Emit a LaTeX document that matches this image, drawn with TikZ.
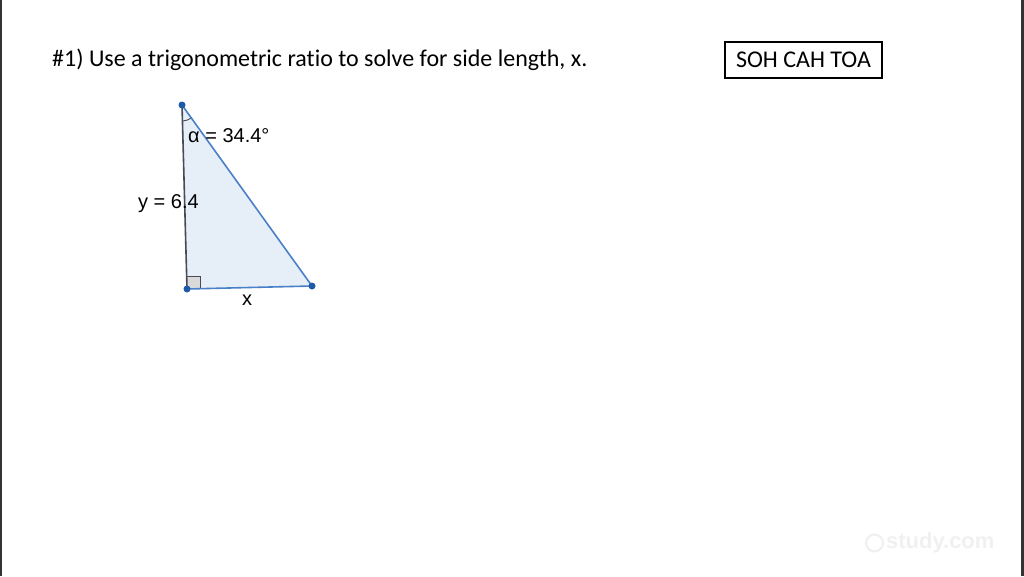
\documentclass[tikz,border=0pt]{standalone}
\usepackage{fontspec}
\setmainfont[Ligatures=NoCommon]{Carlito}
\newfontfamily\labelfont{Liberation Sans}
\usetikzlibrary{positioning}

\definecolor{sideblue}{RGB}{74,128,200}
\definecolor{dotblue}{RGB}{30,90,170}
\definecolor{fillblue}{RGB}{230,238,248}
\definecolor{legdark}{RGB}{70,75,85}

\tikzset{
  vertex/.style={circle,fill=dotblue,inner sep=0pt,minimum size=7pt},
  sidelabel/.style={font=\labelfont\fontsize{20}{22}\selectfont,inner sep=0pt},
  hintbox/.style={draw,line width=1.5pt,minimum width=157pt,minimum height=36pt,font=\fontsize{24}{28}\selectfont}
}

\begin{document}
\begin{tikzpicture}[x=1pt,y=-1pt]
    \useasboundingbox (0,0) rectangle (1024,576);
    % frame edges of the slide
    \draw [line width=2.5pt,black!80] (1.2,0) -- (1.2,576);
    \draw [line width=2.5pt,black!80] (1022.5,0) -- (1022.5,576);
    % title and hint
    \node [anchor=west,inner sep=0pt,font=\fontsize{24}{28}\selectfont] (title) at (52,59.5)
        {\#1) Use a trigonometric ratio to solve for side length, x.};
    \node [hintbox] (hint) at (803.5,60) {SOH CAH TOA};
    % triangle
    \coordinate (A) at (182,105);
    \coordinate (C) at (187,289);
    \coordinate (B) at (312,286);
    \fill [fillblue] (A) -- (C) -- (B) -- cycle;
    \fill [black!15] (187,276) rectangle (200,289);
    \draw [legdark,line width=0.9pt] (187,276) -- (200,276) -- (200,289);
    \draw [legdark,line width=0.9pt] (182.45,121) arc (88.4:54.3:16);
    \draw [legdark,line width=1.6pt] (A) -- (C);
    \draw [sideblue,line width=1.6pt] (C) -- (B) -- (A);
    \node [vertex] (vA) at (A) {};
    \node [vertex] (vB) at (B) {};
    \node [vertex] (vC) at (C) {};
    % labels
    \node [sidelabel,anchor=west] (alpha) at (188,136) {α = 34.4°};
    \node [sidelabel,anchor=west] (ylab) at (138,204) {y = 6.4};
    \node [sidelabel] (xlab) at (247,300) {x};
    % watermark
    \node [anchor=east,text=black!6,font=\labelfont\bfseries\fontsize{22}{24}\selectfont] (mark) at (998,543) {study.com};
    \draw [black!6,line width=2.2pt] (mark.west) ++(-8,0) circle (8.5);
\end{tikzpicture}
\end{document}
